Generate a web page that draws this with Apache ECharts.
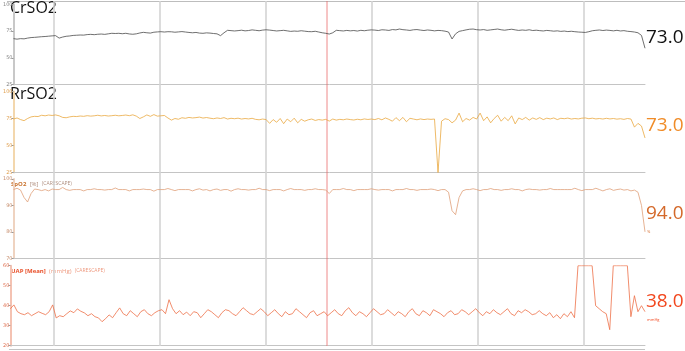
<!DOCTYPE html>
<html><head><meta charset="utf-8">
<script src="https://cdn.jsdelivr.net/npm/echarts@6/dist/echarts.min.js"></script>
<style>html,body{margin:0;padding:0;background:#fff}#c{width:685px;height:351px}</style>
</head><body><div id="c"></div>
<script>
// time axis in minutes (0..360), one sample every 2 minutes
const sampleStep = 2;
const gridTimes = [25.5, 85.5, 145.5, 205.5, 265.5, 325.5];
const cursorTime = 180;

const crso2 = [68,67.5,68,67.8,68.5,69,69.2,69.5,69.8,70,70.3,70.6,70.8,
68.5,69.5,70.2,70.5,71,71.2,71.4,71.3,
71.8,72,71.7,72.1,72.3,72,72.5,73,72.8,73,
72.6,73,72.4,72.1,72.5,73.3,73.9,73.5,73.2,74,74.3,74.5,
74.2,74.5,74.4,74,74.3,74.6,74.2,73.8,73.5,73.8,73.2,73,73.4,73.2,72.8,72.5,
70.8,
73.5,75.8,75.5,75.2,75.5,75.9,75.3,75.6,76.2,75.8,75.4,76,76.3,
76,75.6,75.2,75.5,75.8,75.3,74.8,75.1,74.9,75.4,75,74.6,74.5,74.9,74.2,73.5,73,
72.3,
73.5,75.8,75.5,75.2,75.7,75.3,75.6,75.1,75.8,75.4,75.9,76.2,
76,75.6,76.3,76.1,75.7,76.5,76.2,77,76.4,76.1,75.7,76.3,76.5,76,75.6,76.1,75.8,75.3,75.7,75.5,75,74.2,
67.7,
72.5,74.8,75.5,76.2,76.8,77,76.4,
76.1,76.5,75.8,76.2,76.6,77,76.3,75.9,76.4,76.8,76.2,75.7,76.1,75.8,76.3,75.6,75.9,75.5,75.2,75.7,75.4,75,75.3,74.8,75.1,74.6,74.9,74.5,74.2,74,
73.8,74.5,75.4,75.8,76.1,75.6,76,75.7,75.3,75.8,75.2,75.5,74.9,74.6,74.2,73.5,71,
59];

const rrso2 = [74.5,75.5,74,73,75,76.5,77,76.8,78,77.5,78.2,77.8,78.3,
77.5,76,75.7,76.5,77,76.8,77.3,77,
77.6,77.2,77.5,78,77.4,77.8,77.3,77.6,78,77.5,
77.8,78.2,77.6,78.4,77.2,75,76.5,78.3,77,78.6,77.2,77.5,
77.8,75.5,73.5,75,74.3,75.7,75.2,76,75.5,75.8,76.3,75.4,75.9,75.3,74.8,75.5,
75,75.8,74.5,75.2,74.8,75.3,74.5,75,74.6,75.2,74.2,73.8,74.5,74,
70.5,74,71.5,75,70.2,74.5,72,75.3,71,74.2,72.5,73.8,74.5,73.2,74,73.5,74.2,
72.6,74.5,73.5,74.2,73.8,74.5,74,73.6,74.3,73.8,74.6,74.1,74.5,
74,75,73.8,75.5,74.2,72.5,75.8,73,76,72,75.2,74.5,73.8,74.6,74,74.5,
74.2,74.5,25,72.5,74.8,
74,71,73.5,80,72,75,73.5,76,74.5,
80,73,76.5,71,75,78,72.5,76,73,77.5,70,75.5,74,76,73.5,75.5,74.2,75.8,74,75.3,74.6,75.5,74,75.2,74.8,75.4,74.5,75,74.6,75.3,
75.5,74.8,75.3,74.6,75,74.5,75.2,74.6,75,74.4,74.8,74.2,75,
74.5,67,70.5,68,57];

const spo2 = [96,96.5,95.8,93,91.3,94.5,96.2,96,95.6,96,95.5,96.2,96,
96,96.8,96,95.7,96,96,96,95.5,96,96,96.3,96,96,95.8,96,96,96.6,96,
96,96,95.5,96,96,96,96.2,96,96,95.4,96,96,96,96.4,96,95.6,96,96,96,96,
95.5,96,96.3,95.8,96,95.5,96,96.2,95.7,96,96,95.4,96,96.3,96,96,95.8,96,96,96.5,
96,96,95.6,96,96,96,95.5,96,96.4,96,96,96,95.7,96,96,96.3,96,96,95.8,94.5,
96,96,96,96.4,96,96,95.6,96,96,96,96,96.3,96,95.8,96,96,96,95.5,96,96,
96,96.4,96,96,95.7,96,96,96,96.2,96,95.6,96,96,
95,88,86.5,93,
95.5,96,96,96.3,96,95.6,96,96,96.4,96,96,95.7,96,96,96.3,96,96,95.5,96,96.2,96,96,95.8,
96,96,96.4,96,96,96,96,96,96,96.5,96,95.6,96,96,96,96.5,96,95.5,96,96.3,95.7,96,96.2,95.8,96,95.5,95.8,
95,90,80];

const uap = [38.5,40.4,37,36,35.5,36.5,35,36,37,36.2,35.5,37,40.4,
33.9,35,34.5,36,37.4,36.5,38.4,37.2,36.4,35,36,34.5,33.9,
32,33.5,35.4,34,36.5,38.9,36,35,37.5,36,34.5,37,38,36,35,
36.5,37.5,38,36,43,38.5,36,37.5,35.5,36.8,
35,37,36.5,34,36,38,37,35.5,34,36.5,38,37.5,36,35,37,39,37.5,36,35.5,37,
38.5,37,35,36.5,38,36,34.5,37,35.5,36,38.5,37,35.5,34,36.5,37.5,35,36,37,35,
36.5,38,36,35,37.5,39,36.5,35,37,36,34.5,36.5,38.5,37,35.5,36,38,36.5,35,37,
36,34.5,37,38.5,36,35,37.5,36.5,35,38,37,36,34.5,36.5,37.5,35.5,36,38,37,35.5,
37,38.5,36.5,35,37,36,38,36.5,35.5,37,38.5,36,35,37.5,36.5,38,37,35.5,36,37.5,36,35,36.5,34,35.5,33.5,36,34.5,37,34,
60,60,60,60,60,40,38.5,37,36,28,60,60,60,60,60,34.5,45,37,40,37];

const panelTitles = ['CrSO2','RrSO2'];
const currentValues = ['73.0','73.0','94.0','38.0'];
const units = ['', '', '%', 'mmHg'];

function toXY(arr){ return arr.map((v,i)=>[i*sampleStep, v]); }

const tops = [4.5, 91.5, 179, 265.7];
const heights = [80, 81, 79.3, 80];
const yRanges = [[25,100,25],[25,100,25],[70,100,10],[20,60,10]];
const lineColors = ['#4a4a4a','#eaa840','#e0a078','#ee7048'];
const axisColors = ['#c8c8c8','#f3d7ad','#efd3c0','#f4c2b2'];
const labelColors = ['#888','#e0a050','#c89070','#e07050'];
const valueColors = ['#111111','#f08c28','#d4692a','#f2471e'];
const seriesData = [crso2, rrso2, spo2, uap];
const names = ['CrSO2','RrSO2','SpO2','UAP'];

const grids = [], xAxes = [], yAxes = [], series = [];
for (let k=0;k<4;k++){
  grids.push({left:9, right:40, top:tops[k], height:heights[k]});
  xAxes.push({type:'value', gridIndex:k, min:0, max:360, show:true,
    axisLine:{show:true, lineStyle:{color:'#c4c4c4', width:1}},
    axisTick:{show:false}, axisLabel:{show:false}, splitLine:{show:false}});
  yAxes.push({type:'value', gridIndex:k, min:yRanges[k][0], max:yRanges[k][1], interval:yRanges[k][2],
    axisLine:{show:true, lineStyle:{color:axisColors[k], width:2}},
    axisTick:{show:true, length:2, lineStyle:{color:'#999'}},
    axisLabel:{fontSize:5, margin:1, color:labelColors[k], fontFamily:'DejaVu Sans'},
    splitLine:{show:false}});
  series.push({type:'line', name:names[k], xAxisIndex:k, yAxisIndex:k, data:toXY(seriesData[k]),
    symbol:'none', z:5, lineStyle:{color:lineColors[k], width:0.8}, animation:false});
}
// overlay grid for vertical gridlines and cursor
grids.push({left:9, right:40, top:1, height:345});
xAxes.push({type:'value', gridIndex:4, min:0, max:360, show:false});
yAxes.push({type:'value', gridIndex:4, min:0, max:1, show:false});
const mlData = gridTimes.map(t=>({xAxis:t, lineStyle:{color:'#d4d4d4', width:1.6, type:'solid'}}));
series.push({type:'line', xAxisIndex:4, yAxisIndex:4, data:[[0,-1],[360,-1]], symbol:'none', z:1,
  lineStyle:{opacity:0}, silent:true, animation:false,
  markLine:{silent:true, symbol:['none','none'], label:{show:false}, animation:false, data:mlData}});
// cursor line as a vertical two-point series
series.push({type:'line', xAxisIndex:4, yAxisIndex:4, data:[[cursorTime,0],[cursorTime,1]], symbol:'none', z:2,
  silent:true, animation:false, itemStyle:{color:'#e86464'}, lineStyle:{color:'#e86464', width:1, opacity:0.75}});

const graphic = [
  {type:'line', shape:{x1:7,y1:1.5,x2:685,y2:1.5}, style:{stroke:'#bdbdbd', lineWidth:1}},
  {type:'line', shape:{x1:9,y1:349.5,x2:645,y2:349.5}, style:{stroke:'#c4c4c4', lineWidth:1}},
  {type:'text', left:10, top:0, style:{text:panelTitles[0], font:'16px "Open Sans"', fill:'#111'}},
  {type:'text', left:10, top:86, style:{text:panelTitles[1], font:'16px "Open Sans"', fill:'#111'}},
  {type:'text', left:11, top:178, style:{rich:{a:{fontSize:6,fontWeight:'bold',fill:'#c8702a',fontFamily:'Open Sans'},b:{fontSize:6,fill:'#b09080',fontFamily:'Open Sans'},c:{fontSize:5,fill:'#b09080',fontFamily:'Open Sans'}}, text:'{a|SpO2} {b|[%]} {c|(CARESCAPE)}'}},
  {type:'text', left:11, top:265, style:{rich:{a:{fontSize:6,fontWeight:'bold',fill:'#e8502a',fontFamily:'Open Sans'},b:{fontSize:6,fill:'#ee9a80',fontFamily:'Open Sans'},c:{fontSize:5,fill:'#ee9a80',fontFamily:'Open Sans'}}, text:'{a|UAP [Mean]} {b|(mmHg)} {c|(CARESCAPE)}'}}
];
const valueTops = [28, 116, 204, 292];
for (let k=0;k<4;k++){
  graphic.push({type:'text', left:646, top:valueTops[k], style:{text:currentValues[k], font:'19px "Open Sans"', fill:valueColors[k]}});
  if (units[k]) graphic.push({type:'text', left:647, top:valueTops[k]+26, style:{text:units[k], font:'4px "Open Sans"', fill:valueColors[k]}});
}

const chart = echarts.init(document.getElementById('c'), null, {renderer:'canvas'});
chart.setOption({animation:false, grid:grids, xAxis:xAxes, yAxis:yAxes, series:series, graphic:graphic});
</script></body></html>
